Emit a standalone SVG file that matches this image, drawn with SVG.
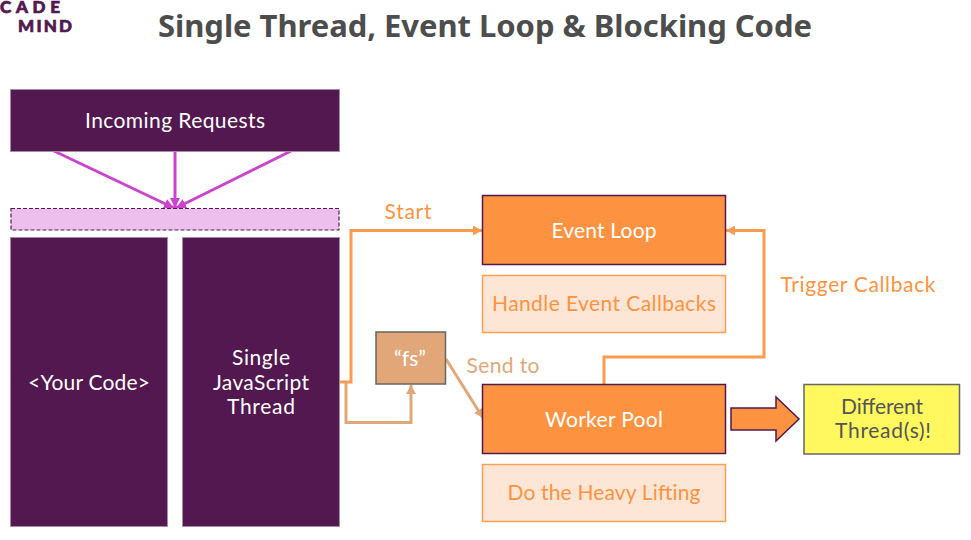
<svg xmlns="http://www.w3.org/2000/svg" width="971" height="540" viewBox="0 0 971 540">
<style>
text{font-family:"Lato","Noto Sans","Liberation Sans",sans-serif;font-size:21px;font-weight:400;text-anchor:middle}
.w{fill:#fff}
.o{fill:#fd9340}
.logo{font-size:17px;font-weight:900;fill:#52184f;stroke:#52184f;stroke-width:.7}
.purple{fill:#52184f;stroke:#a98aa8;stroke-width:1}
.orange{fill:#fd9340;stroke:#52184f;stroke-width:1.5}
.pale{fill:#fde6d6;stroke:#fd9f55;stroke-width:1.5}
.c{fill:none;stroke-width:3}
</style>
<defs>
<marker id="am" markerUnits="userSpaceOnUse" markerWidth="12" markerHeight="10" refX="10" refY="5" orient="auto"><path d="M0 0L10 5L0 10z" fill="#cb44cd"/></marker>
<marker id="ao" markerUnits="userSpaceOnUse" markerWidth="10" markerHeight="10" refX="9" refY="5" orient="auto"><path d="M0 0L9 5L0 10z" fill="#fd9a4d"/></marker>
<marker id="at" markerUnits="userSpaceOnUse" markerWidth="10" markerHeight="10" refX="9" refY="5" orient="auto"><path d="M0 0L9 5L0 10z" fill="#e2a778"/></marker>
</defs>
<text id="title" x="485" y="37" style="font-family:'Noto Sans','Open Sans',sans-serif;font-size:31px;font-weight:700;fill:#4d4d4d" textLength="654">Single Thread, Event Loop &amp; Blocking Code</text>
<g id="logo">
<text class="logo" x="30" y="13" textLength="60">CADE</text>
<text class="logo" x="45" y="32" textLength="54">MIND</text>
</g>
<g id="connectors">
<path class="c" stroke="#cb44cd" d="M54 151L174 208" marker-end="url(#am)"/>
<path class="c" stroke="#cb44cd" d="M175 151V208" marker-end="url(#am)"/>
<path class="c" stroke="#cb44cd" d="M291 151L176 208" marker-end="url(#am)"/>
<path class="c" stroke="#fd9a4d" d="M340 382H351V230.500H482" marker-end="url(#ao)"/>
<path class="c" stroke="#e2a778" d="M346 382V422.500H411V385" marker-end="url(#at)"/>
<path class="c" stroke="#e2a778" d="M446 359L483 418" marker-end="url(#at)"/>
<path class="c" stroke="#fd9a4d" d="M604 384V357H764V230.500H726" marker-end="url(#ao)"/>
</g>
<g id="incoming"><rect class="purple" x="10.500" y="89.500" width="329" height="62"/><text class="w" x="175" y="128" textLength="180">Incoming Requests</text></g>
<g id="queue"><rect x="11" y="208.500" width="328" height="21.500" fill="#ecbfec" stroke="#52184f" stroke-width="1.200" stroke-dasharray="4 2"/></g>
<g id="your-code"><rect class="purple" x="10.500" y="237.500" width="157" height="289"/><text class="w" x="89" y="390" textLength="122">&lt;Your Code&gt;</text></g>
<g id="js-thread"><rect class="purple" x="182.500" y="237.500" width="157" height="289"/><text class="w" x="261" y="365" textLength="58">Single</text><text class="w" x="261" y="390" textLength="96">JavaScript</text><text class="w" x="261" y="414" textLength="68">Thread</text></g>
<g id="fs"><rect x="376" y="332" width="69.500" height="52" fill="#e2a778" stroke="#666" stroke-width="1.500"/><text class="w" x="410" y="366" textLength="32">“fs”</text></g>
<g id="event-loop"><rect class="orange" x="482.500" y="195.500" width="243" height="69"/><text class="w" x="604" y="238" textLength="105">Event Loop</text></g>
<g id="handle"><rect class="pale" x="482.500" y="275.500" width="243" height="57"/><text class="o" x="604" y="311" textLength="224">Handle Event Callbacks</text></g>
<g id="worker-pool"><rect class="orange" x="482.500" y="384.500" width="243" height="69"/><text class="w" x="604" y="427" textLength="118">Worker Pool</text></g>
<g id="heavy"><rect class="pale" x="482.500" y="464.500" width="243" height="57"/><text class="o" x="604" y="500" textLength="193">Do the Heavy Lifting</text></g>
<g id="labels"><text class="o" x="408" y="219" textLength="47">Start</text><text x="503" y="373" fill="#e2a778" textLength="73">Send to</text><text class="o" x="858" y="292" textLength="155">Trigger Callback</text></g>
<g id="big-arrow"><path d="M731 408H776V397L799 419L776 441V430H731z" fill="#fd9340" stroke="#52184f" stroke-width="1.500"/></g>
<g id="threads"><rect x="804" y="384.500" width="155.500" height="69.500" fill="#fff95f" stroke="#666" stroke-width="1.500"/><text x="882" y="414" fill="#555" textLength="82">Different</text><text x="883" y="438" fill="#555" textLength="96">Thread(s)!</text></g>
</svg>
